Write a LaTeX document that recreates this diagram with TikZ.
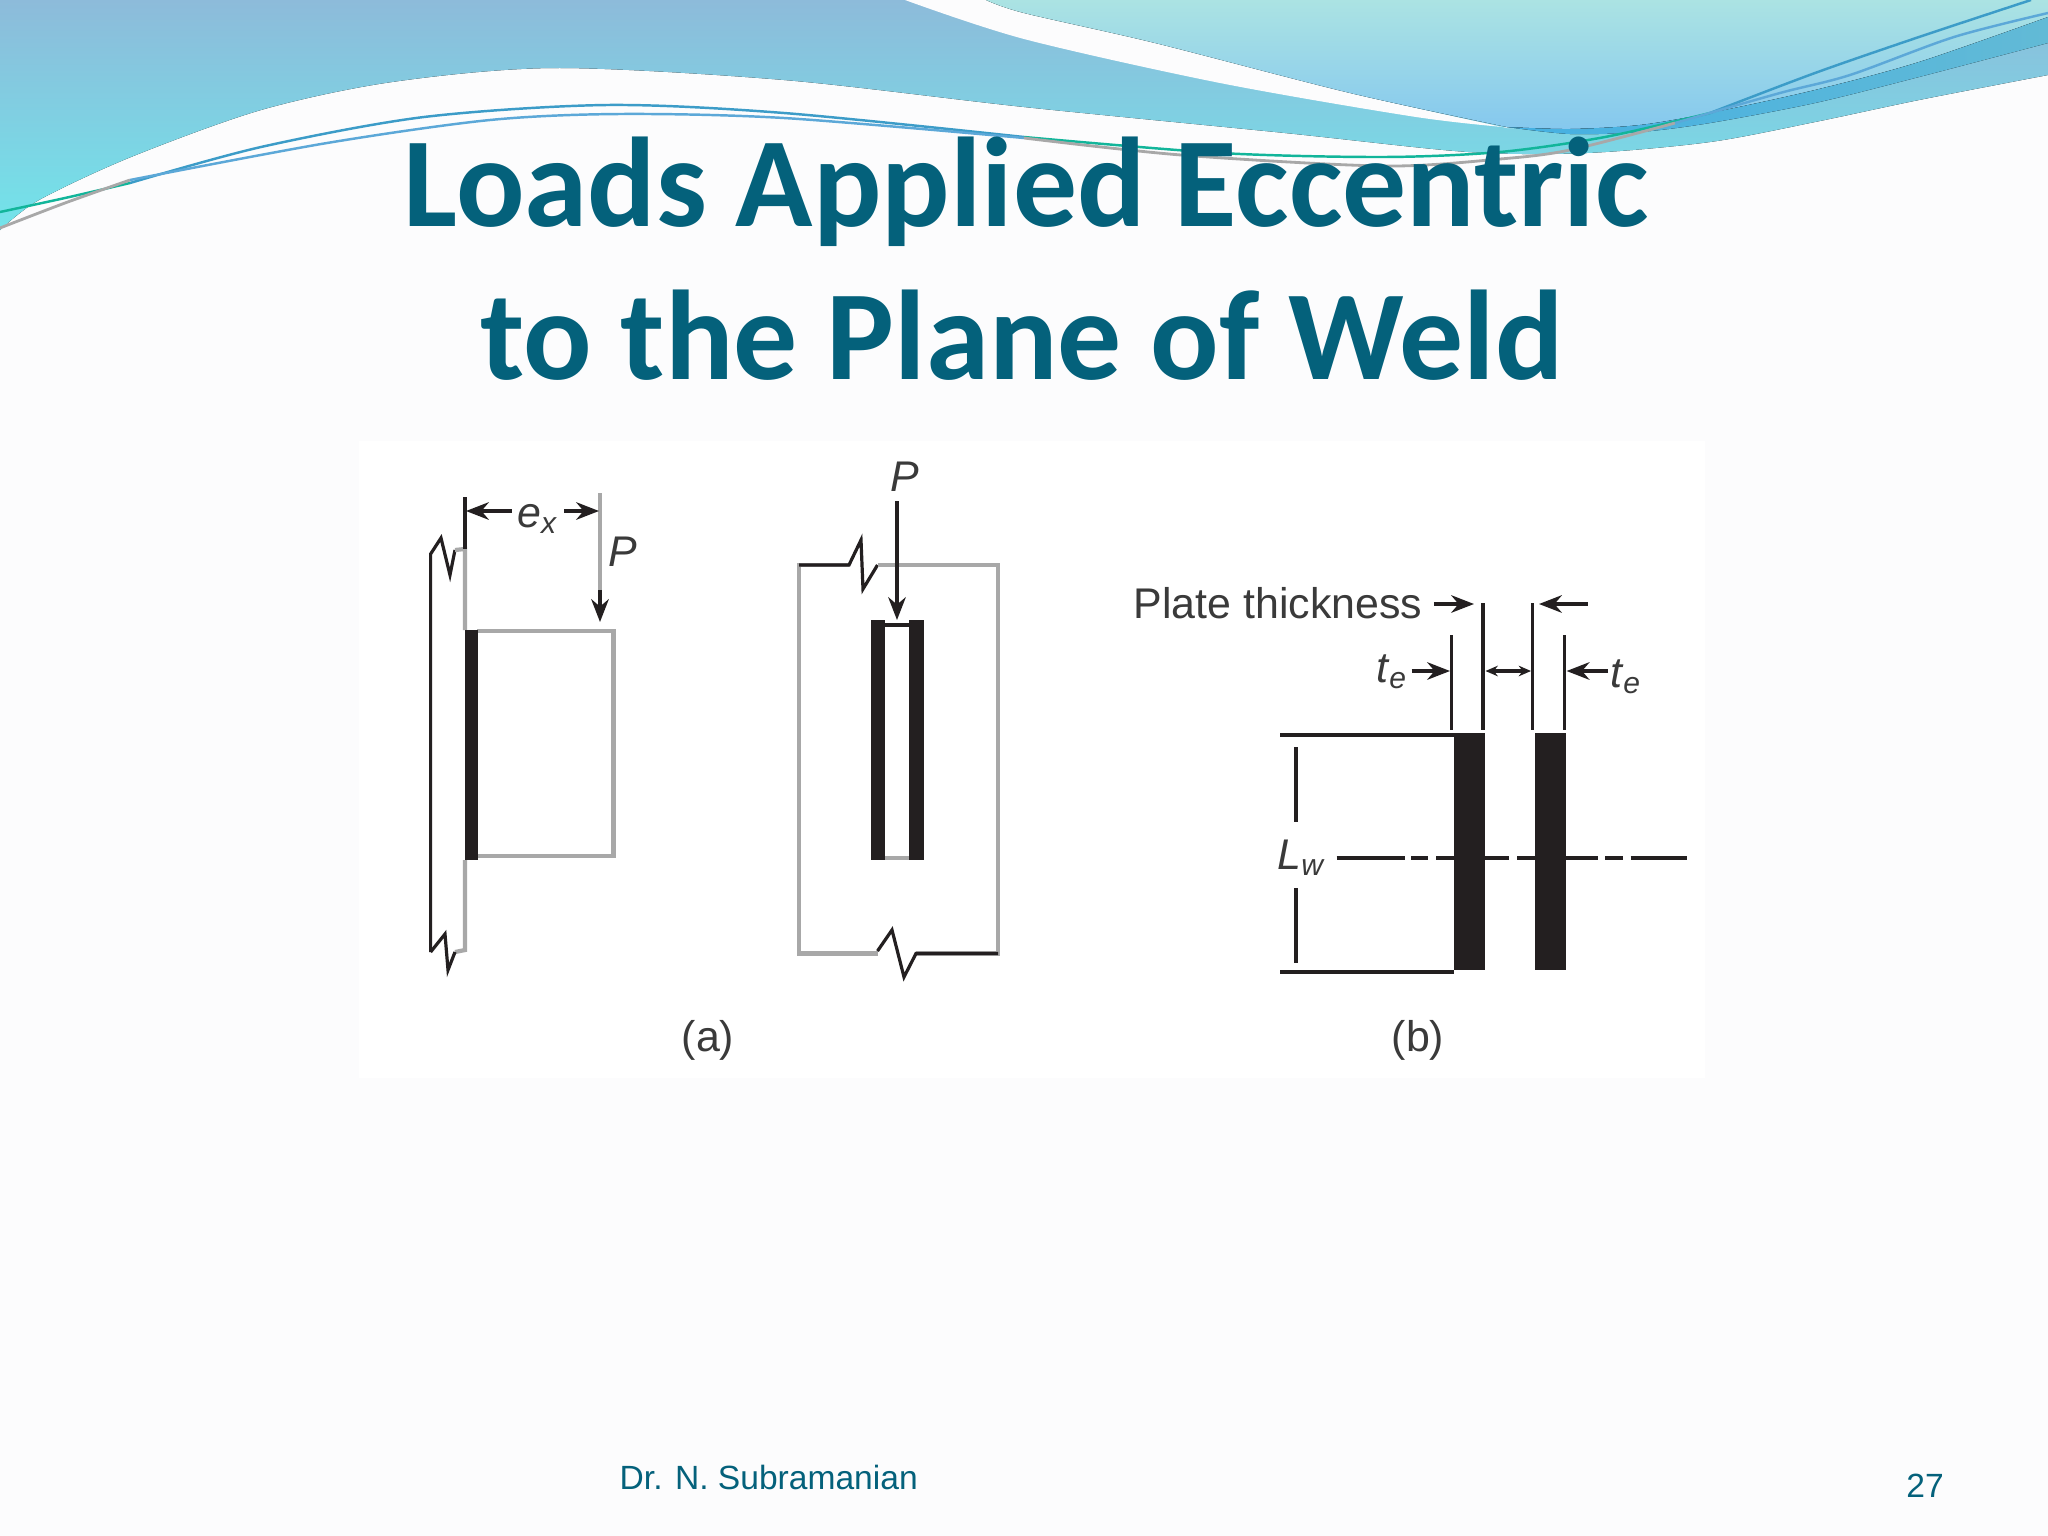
\documentclass[tikz,border=0pt]{standalone}
\usepackage{fontspec}
\setmainfont{Liberation Sans}
\newfontfamily\titlefont{Carlito}
\usetikzlibrary{arrows.meta}
\definecolor{pagebg}{HTML}{FCFCFD}
\definecolor{titleblue}{HTML}{04617B}
\definecolor{wavetop}{HTML}{8DBBDA}
\definecolor{wavebot}{HTML}{72E4EA}
\definecolor{tealtop}{HTML}{ABE3E3}
\definecolor{tealbot}{HTML}{85C8EE}
\definecolor{bandblue}{HTML}{45B0E2}
\definecolor{bandend}{HTML}{62BAD6}
\definecolor{linegreen}{HTML}{12B59A}
\definecolor{lineblue}{HTML}{3C9CC8}
\definecolor{linepale}{HTML}{5CA8D8}
\definecolor{linegray}{HTML}{A8A8A8}
\definecolor{inkblack}{HTML}{231F20}
\definecolor{inkgray}{HTML}{3A3A3A}
\tikzset{
  grayline/.style={draw=linegray,line width=4.2pt*.2845},
  inkline/.style={draw=inkblack,line width=3.2pt*.2845},
  weld/.style={fill=inkblack},
  dimarrow/.style={inkline,-{Stealth[length=6.5pt,width=5pt]}},
  dimsmall/.style={inkline,{Stealth[length=3.5pt,width=3pt]}-{Stealth[length=3.5pt,width=3pt]}},
  figlabel/.style={inner sep=0pt,text=inkgray,font=\fontsize{12.2pt}{14pt}\selectfont},
  titleline/.style={inner sep=0pt,anchor=base,text=titleblue,font=\titlefont\bfseries\fontsize{36.3pt}{40pt}\selectfont},
  footline/.style={inner sep=0pt,text=titleblue,font=\fontsize{9.55pt}{12pt}\selectfont},
}
\begin{document}
\begin{tikzpicture}[x=.01cm,y=-.01cm]
\useasboundingbox (0,0) rectangle (2048,1536);
\fill[pagebg] (0,0) rectangle (2048,1536);

% banner
\fill[top color=wavetop,bottom color=wavebot,shading angle=0] (0,0) -- (0,230) -- plot[smooth] coordinates {(0,230) (39,200) (131,157) (261,110) (392,82) (555,68) (784,80) (1024,107) (1285,133) (1468,152) (1587,153) (1710,142) (1815,122) (1919,100) (2048,75)} -- (2048,0) -- cycle;
\fill[pagebg] (905,0) -- plot[smooth] coordinates {(905,0) (1024,39) (1220,83) (1416,117) (1514,128)} -- (1507,128) -- plot[smooth] coordinates {(1507,128) (1350,93) (1155,43) (1024,13) (986,0)} -- cycle;
\fill[top color=tealtop,bottom color=tealbot] (986,0) -- plot[smooth] coordinates {(986,0) (1024,13) (1155,43) (1350,93) (1507,127)} -- plot[smooth] coordinates {(1507,127) (1570,129) (1640,125) (1710,113) (1815,90) (1919,62) (2048,17)} -- (2048,0) -- cycle;
\fill[left color=bandblue,middle color=bandblue,right color=bandend] (1507,127) -- plot[smooth] coordinates {(1507,127) (1570,129) (1640,125) (1710,113) (1815,90) (1919,62) (2048,17)} -- (2048,43) -- plot[smooth] coordinates {(2048,43) (1919,77) (1815,103) (1710,123) (1640,132) (1570,134) (1507,127)} -- cycle;

% thin lines over the banner
\draw[lineblue,line width=.7pt] plot[smooth] coordinates {(130,183) (261,147) (424,117) (607,105) (784,113) (1024,137)};
\draw[linegreen,line width=.7pt] plot[smooth] coordinates {(0,212) (65,198) (130,183)};
\draw[linegreen,line width=.7pt] plot[smooth] coordinates {(1024,137) (1220,153) (1383,157) (1500,152) (1605,137) (1710,113)};
\draw[lineblue,line width=.7pt] plot[smooth] coordinates {(1710,113) (1815,73) (1919,37) (2031,0)};
\draw[linegray,line width=.8pt] plot[smooth] coordinates {(0,228) (65,203) (130,180)};
\draw[linepale,line width=.7pt] plot[smooth] coordinates {(130,180) (327,143) (490,120) (620,114) (784,118) (1024,138)};
\draw[linegray,line width=.8pt] plot[smooth] coordinates {(1024,138) (1181,155) (1383,166) (1500,159) (1570,150) (1675,123)};
\draw[linepale,line width=.7pt] plot[smooth] coordinates {(1675,123) (1780,93) (1850,75) (1954,37) (2048,13)};

\node[titleline] (title1) at (1026,226) {Loads Applied Eccentric};
\node[titleline] (title2) at (1022,379) {to the Plane of Weld};

% white panel of the figure
\fill[white] (359,441) rectangle (1705,1078);

% (a) left view
\draw[inkline] (430.6,952) -- (430.6,554) -- (441,538) -- (450,575) -- (455,550);
\draw[grayline] (455,550) -- (465,549) -- (465,630);
\draw[inkline] (465,497) -- (465,549);
\draw[grayline] (465,860) -- (465,950) -- (455,952);
\draw[inkline] (430.6,952) -- (445,934) -- (448,970) -- (455,952);
\draw[grayline] (477,630.6) -- (613.5,630.6) -- (613.5,856) -- (477,856);
\fill[weld] (464.5,630) rectangle (477.5,860);
\draw[grayline] (600,493) -- (600,600);
\coordinate (loadA) at (600,622);
\draw[dimarrow] (600,590) -- (loadA);
\node[figlabel,font=\fontsize{12.2pt}{14pt}\selectfont\itshape] (pA) at (623,552) {P};
\node[figlabel] (ex) at (538,519) {\textit{e}\textsubscript{\textit{x}}};
\coordinate (exL) at (466,511);
\coordinate (exR) at (599,511);
\draw[dimarrow] (ex.west |- exL) ++(-5,0) -- (exL);
\draw[dimarrow] (ex.east |- exR) ++(5,0) -- (exR);

% (a) right view
\draw[grayline] (849,565) -- (799,565) -- (799,953.5) -- (877.5,953.5);
\draw[inkline] (799,565) -- (849,565) -- (861,540) -- (863,589) -- (877.5,565);
\draw[grayline] (877.5,565) -- (998,565) -- (998,953.5) -- (916,953.5);
\draw[inkline] (877.5,951) -- (892,930) -- (904,977) -- (916,953.5) -- (998,953.5);
\draw[inkline] (884.5,625) -- (909.4,625);
\draw[inkline,draw=linegray] (884.5,858) -- (909.4,858);
\fill[weld] (870.6,620) rectangle (884.5,860);
\fill[weld] (909.4,620) rectangle (923.7,860);
\node[figlabel,font=\fontsize{12.2pt}{14pt}\selectfont\itshape] (pB) at (905,477) {P};
\coordinate (loadB) at (897,620);
\draw[dimarrow] (897,501) -- (loadB);
\node[figlabel] (capA) at (708,1040) {(a)};

% (b) section
\node[figlabel,anchor=west] (plate) at (1133,603) {Plate thickness};
\coordinate (plateL) at (1474,604);
\coordinate (plateR) at (1539,604);
\draw[dimarrow] (plate.east |- plateL) ++(11,0) -- (plateL);
\draw[dimarrow] (1587.5,604) -- (plateR);
\draw[inkline] (1483,603) -- (1483,730);
\draw[inkline] (1532.6,603) -- (1532.6,730);
\draw[inkline] (1451.5,635) -- (1451.5,730);
\draw[inkline] (1564.6,635) -- (1564.6,730);
\node[figlabel] (teL) at (1392,672) {\textit{t}\textsubscript{\textit{e}}};
\node[figlabel] (teR) at (1626,677) {\textit{t}\textsubscript{\textit{e}}};
\draw[dimarrow] (1411.6,671) -- (1450,671);
\draw[dimarrow] (1608,671) -- (1566.6,671);
\draw[dimsmall] (1485.5,671) -- (1531,671);
\draw[inkline] (1280,735) -- (1454,735);
\draw[inkline] (1280,972) -- (1454,972);
\fill[weld] (1454,733) rectangle (1485,970);
\fill[weld] (1535,733) rectangle (1566,970);
\node[figlabel] (lw) at (1302,858) {\textit{L}\textsubscript{\textit{w}}};
\draw[inkline] (1296,747) -- (1296,822);
\draw[inkline] (1296,888) -- (1296,963);
\draw[inkline] (1336.5,858) -- (1404.5,858);
\draw[inkline] (1411,858) -- (1428,858);
\draw[inkline] (1436,858) -- (1454,858);
\draw[inkline] (1485,858) -- (1509,858);
\draw[inkline] (1517,858) -- (1535,858);
\draw[inkline] (1566,858) -- (1598,858);
\draw[inkline] (1605,858) -- (1623,858);
\draw[inkline] (1630.6,858) -- (1687,858);
\node[figlabel] (capB) at (1418,1040) {(b)};

% footer
\node[footline,anchor=base west] (author) at (619,1489) {Dr. N. Subramanian};
\node[footline,anchor=base] (pagenum) at (1925,1497) {27};
\end{tikzpicture}
\end{document}
